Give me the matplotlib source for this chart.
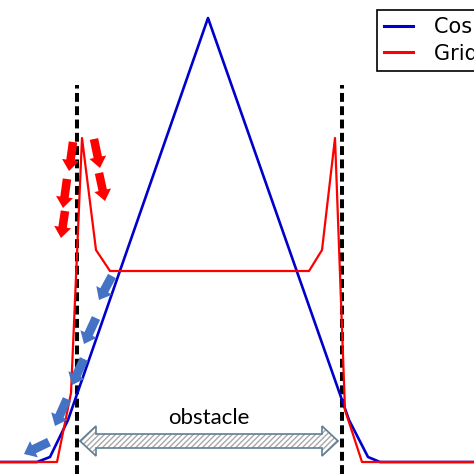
import numpy as np
import matplotlib
matplotlib.use('Agg')
import matplotlib.pyplot as plt
from matplotlib.patches import FancyArrow, Polygon

# Data (x position, height above baseline)
x_blue = [0, 37, 50, 68, 208, 349, 368, 380, 474]
y_blue = [0, 0, 5, 42, 444, 42, 5, 0, 0]
x_red = [0, 57, 71, 82, 96, 110, 309, 322, 335, 345, 362, 474]
y_red = [0, 0, 69, 324, 212, 191, 191, 212, 324, 52, 0, 0]
labels = ['Cosine bell', 'Grid based']
obstacle_edges = [77, 342]

# red arrows (tail x, tail y, head x, head y)
red_arrows = [(73, 320, 69, 291), (67, 283, 63, 254), (65, 251, 61, 224),
              (94, 323, 100, 294), (99, 289, 105, 261)]
# blue arrows
blue_arrows = [(112, 186, 99, 162), (96, 144, 84, 118), (84, 103, 72, 77),
               (67, 63, 55, 36), (49, 20, 24, 8)]

fig = plt.figure(figsize=(4.74, 4.74), dpi=100)
ax = fig.add_axes([0, 0, 1, 1])
ax.set_xlim(0, 474)
ax.set_ylim(-12, 462)
ax.axis('off')

ax.vlines(obstacle_edges, -12, 377, colors='black', lw=2.9,
          linestyles=(0, (2.2, 1.1)), zorder=1)

l1, = ax.plot(x_blue, y_blue, color='#0000cc', lw=1.9, zorder=3)
l2, = ax.plot(x_red, y_red, color='#ff0000', lw=1.6, zorder=4)

for (x0, y0, x1, y1) in red_arrows:
    ax.add_patch(FancyArrow(x0, y0, x1 - x0, y1 - y0, width=8.5, head_width=17,
                            head_length=11, length_includes_head=True,
                            color='#ff0000', lw=0, zorder=5))
for (x0, y0, x1, y1) in blue_arrows:
    ax.add_patch(FancyArrow(x0, y0, x1 - x0, y1 - y0, width=9, head_width=18,
                            head_length=11, length_includes_head=True,
                            color='#4472c4', lw=0, zorder=5))

# double arrow for the obstacle
xa, xb, yc = 80, 338, 21
sw, hw, hl = 7, 15, 16
pts = [(xa, yc), (xa + hl, yc + hw), (xa + hl, yc + sw), (xb - hl, yc + sw),
       (xb - hl, yc + hw), (xb, yc), (xb - hl, yc - hw), (xb - hl, yc - sw),
       (xa + hl, yc - sw), (xa + hl, yc - hw)]
ax.add_patch(Polygon(pts, closed=True, facecolor='white', edgecolor='#a8a8a8',
                     hatch='//////', lw=0, zorder=2))
ax.add_patch(Polygon(pts, closed=True, fill=False, edgecolor='#5f7f93',
                     lw=1.2, zorder=2))
ax.text(209, 44, 'obstacle', ha='center', va='center', fontsize=16,
        family='Lato', zorder=6)

leg = fig.legend([l1, l2], labels, loc='upper left',
                 bbox_to_anchor=(377 / 474, 1 - 10 / 474), fontsize=15,
                 fancybox=False, framealpha=1, edgecolor='black',
                 handlelength=1.4, borderpad=0.35, labelspacing=0.3,
                 handletextpad=1.0, borderaxespad=0)
leg.get_frame().set_linewidth(1.2)
for ln in leg.get_lines():
    ln.set_linewidth(2.2)

fig.savefig('out.png', dpi=100)
